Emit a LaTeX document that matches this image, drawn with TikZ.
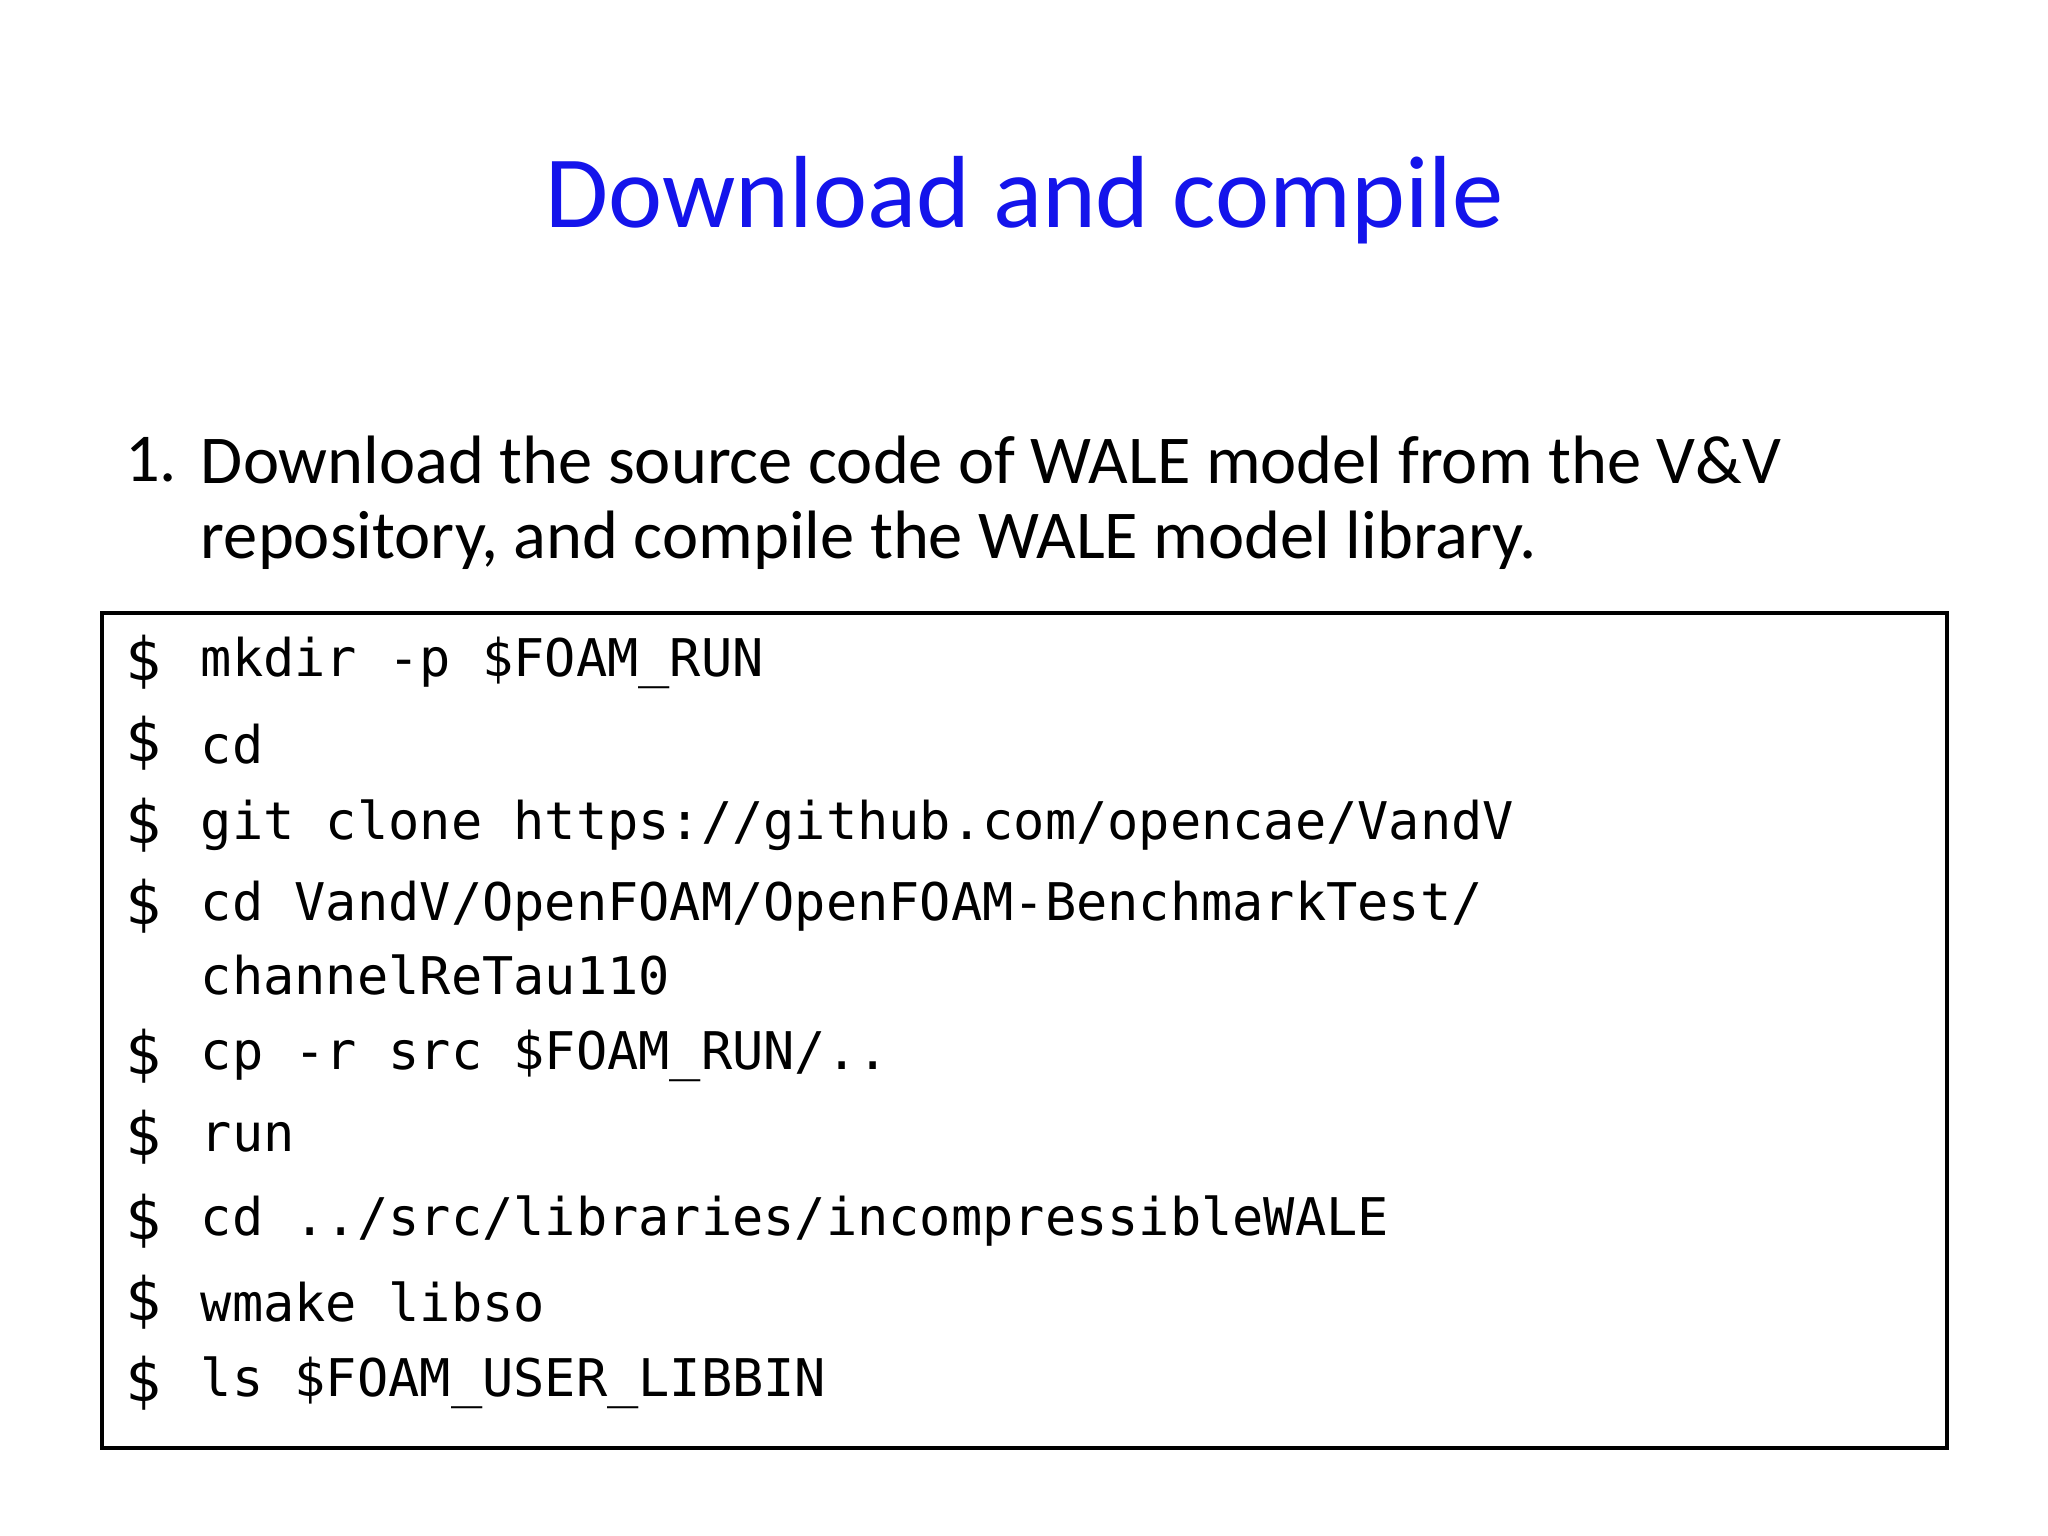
\documentclass[tikz,border=0pt]{standalone}
\usepackage{fontspec}
\setmainfont{Carlito}
\newfontfamily\codefont{DejaVu Sans Mono}
\definecolor{titleblue}{RGB}{20,20,235}
\begin{document}
\begin{tikzpicture}[x=0.01cm,y=-0.01cm,
  body/.style={anchor=west,inner sep=0pt,font=\fontsize{14.9}{18}\selectfont},
  code/.style={anchor=west,inner sep=0pt,font=\codefont\fontsize{11.3}{13}\selectfont},
  dollar/.style={anchor=west,inner sep=0pt,font=\codefont\fontsize{13}{15}\selectfont}]
\useasboundingbox (0,0) rectangle (1567,1175);
\node[inner sep=0pt,text=titleblue,font=\fontsize{22.3}{26}\selectfont] (title) at (784,153) {Download and compile};
\node[body] (n1) at (95,352) {1.};
\node[body] (l1) at (153,352) {Download the source code of WALE model from the V\&V};
\node[body] (l2) at (153,413) {repository, and compile the WALE model library.};
\draw[line width=0.03cm] (78,469) rectangle (1490,1108);
\foreach \y/\t [count=\i] in {507/{mkdir -p \$FOAM\_RUN},569/{cd},631/{git clone https://github.com/opencae/VandV},693/{cd VandV/OpenFOAM/OpenFOAM-BenchmarkTest/},808/{cp -r src \$FOAM\_RUN/..},870/{run},934/{cd ../src/libraries/incompressibleWALE},996/{wmake libso},1058/{ls \$FOAM\_USER\_LIBBIN}}{
  \node[dollar] (d\i) at (95,\y) {\$};
  \node[code] (c\i) at (153,\y) {\t};
}
\node[code] (cx) at (153,746) {channelReTau110};
\end{tikzpicture}
\end{document}
